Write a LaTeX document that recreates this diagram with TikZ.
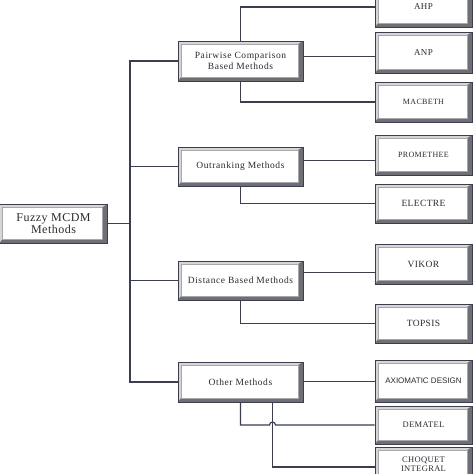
\documentclass[tikz,border=0pt]{standalone}
\usepackage{fontspec}
\setmainfont{Liberation Serif}
\newfontfamily\spacedA[LetterSpace=6]{Liberation Serif}
\newfontfamily\spacedL[LetterSpace=4]{Liberation Serif}
\newfontfamily\spacedB[LetterSpace=4]{Liberation Serif}
\newfontfamily\sansA{Liberation Sans}
\usetikzlibrary{calc}
\definecolor{edge}{HTML}{3A3E4E}
\definecolor{bevlight}{HTML}{D6D6D8}
\definecolor{bevdark}{HTML}{6E6F74}
\definecolor{facebd}{HTML}{A8A8AC}
\definecolor{txt}{HTML}{2A2A30}
\tikzset{
  bev/.style={draw=edge, line width=0.9pt, fill=white, inner sep=0pt, align=center, text=txt,
    path picture={
      \coordinate (sw) at (path picture bounding box.south west);
      \coordinate (ne) at (path picture bounding box.north east);
      \coordinate (nw) at (sw |- ne);
      \coordinate (se) at (ne |- sw);
      \coordinate (isw) at ($(sw)+(3,4)$);
      \coordinate (ine) at ($(ne)+(-5,-3)$);
      \coordinate (inw) at ($(nw)+(3,-3)$);
      \coordinate (ise) at ($(se)+(-5,4)$);
      \fill[bevlight] (sw) -- (nw) -- (ne) -- (ine) -- (inw) -- (isw) -- cycle;
      \fill[bevdark] (sw) -- (isw) -- (ise) -- (ine) -- (ne) -- (se) -- cycle;
      \draw[facebd, line width=0.4pt] (isw) rectangle (ine);
    }},
  midbox/.style={bev, minimum width=125pt, minimum height=40pt, font=\spacedA\fontsize{9.5}{10.5}\selectfont},
  leaf/.style={bev, minimum width=97pt, minimum height=40pt},
  conn/.style={draw=edge, line width=1.2pt}
}
\begin{document}
\begin{tikzpicture}[x=1pt,y=1pt]
\useasboundingbox[fill=white] (0,0) rectangle (474,-474);

% root
\node[bev, minimum width=108pt, minimum height=39pt, font=\spacedB\fontsize{12}{12.5}\selectfont] (fuzzy) at (53.5,-223.5) {Fuzzy MCDM\\Methods};

% middle level
\node[midbox] (pair) at (240.5,-61) {Pairwise Comparison\\Based Methods};
\node[midbox, minimum height=39pt] (outr) at (240.5,-166.5) {Outranking Methods};
\node[midbox, minimum height=39pt] (dist) at (240.5,-280.5) {Distance Based Methods};
\node[midbox] (other) at (240.5,-382) {Other Methods};

% leaves
\node[leaf, font=\spacedL\fontsize{9}{10}\selectfont] (ahp) at (423.5,-7) {AHP};
\node[leaf, minimum height=41pt, font=\spacedL\fontsize{9}{10}\selectfont] (anp) at (423.5,-52.5) {ANP};
\node[leaf, font=\spacedL\fontsize{8}{9}\selectfont] (macbeth) at (423.5,-102) {MACBETH};
\node[leaf, font=\spacedL\fontsize{8}{9}\selectfont] (prom) at (423.5,-155) {PROMETHEE};
\node[leaf, minimum height=39pt, font=\spacedL\fontsize{9.5}{10}\selectfont] (electre) at (423.5,-203.5) {ELECTRE};
\node[leaf, font=\spacedL\fontsize{9.5}{10}\selectfont] (vikor) at (423.5,-264) {VIKOR};
\node[leaf, minimum height=39pt, font=\spacedL\fontsize{9.5}{10}\selectfont] (topsis) at (423.5,-323.5) {TOPSIS};
\node[leaf, minimum height=42pt, font=\sansA\fontsize{8}{9}\selectfont] (axio) at (423.5,-381) {AXIOMATIC DESIGN};
\node[leaf, minimum height=38pt, font=\spacedL\fontsize{8.5}{9.5}\selectfont] (dema) at (423.5,-425) {DEMATEL};
\node[leaf, font=\spacedL\fontsize{8.5}{8.5}\selectfont, text depth=6pt] (choq) at (423.5,-467) {CHOQUET\\INTEGRAL};

% trunk
\coordinate (tk) at (130,0);
\draw[conn] (fuzzy.east) -- (fuzzy.east -| tk);
\draw[conn] (pair.west) -- (pair.west -| tk) -- (other.west -| tk) -- (other.west);
\draw[conn] (outr.west) -- (outr.west -| tk);
\draw[conn] (dist.west) -- (dist.west -| tk);

% pairwise branches
\draw[conn] (pair.north) |- (ahp.west);
\coordinate (m1) at ($(pair.east)!.5!(anp.west)$);
\draw[conn] (pair.east |- m1) -- (anp.west |- m1);
\draw[conn] (pair.south) |- (macbeth.west);

% outranking branches
\coordinate (m2) at ($(outr.east)!.5!(prom.west)$);
\draw[conn] (outr.east |- m2) -- (prom.west |- m2);
\draw[conn] (outr.south) |- (electre.west);

% distance branches
\coordinate (m3) at ($(dist.east)!.5!(vikor.west)$);
\draw[conn] (dist.east |- m3) -- (vikor.west |- m3);
\draw[conn] (dist.south) |- (topsis.west);

% other branches
\coordinate (m4) at ($(other.east)!.5!(axio.west)$);
\draw[conn] (other.east |- m4) -- (axio.west |- m4);
\coordinate (hop) at ($(other.south |- dema.west)+(32,0)$);
\draw[conn] (other.south) |- ($(hop)+(-3,0)$) arc (180:0:3) -- (dema.west);
\draw[conn] ($(other.south)+(32,0)$) |- (choq.west);
\end{tikzpicture}
\end{document}
